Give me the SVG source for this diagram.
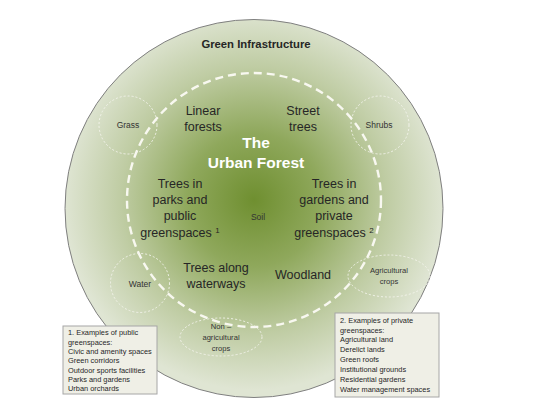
<svg xmlns="http://www.w3.org/2000/svg" width="533" height="400" viewBox="0 0 533 400">
<defs>
<radialGradient id="g" cx="254" cy="200" r="190" gradientUnits="userSpaceOnUse">
<stop offset="0" stop-color="#6f8f30"/>
<stop offset="0.35" stop-color="#8fa85c"/>
<stop offset="0.7" stop-color="#bfcca3"/>
<stop offset="1" stop-color="#dfe5d3"/>
</radialGradient>
</defs>
<style>
text{font-family:"Liberation Sans",Arial,sans-serif;fill:#262626;text-anchor:middle}
.big{font-size:12.5px}
.sm{font-size:8.5px;fill:#333}
.xs{font-size:7.6px;fill:#333}
.box{fill:#efefe6;stroke:#a6a6a6;stroke-width:1}
.bt{font-size:7.4px;text-anchor:start;fill:#262626}
.sub{fill:none;stroke:#f4f4ec;stroke-width:0.9;stroke-dasharray:2 2}
</style>
<rect width="533" height="400" fill="#fff"/>
<g id="green-infrastructure">
<circle cx="254" cy="208.5" r="189" fill="url(#g)" stroke="#7f7f7f" stroke-width="1"/>
<text x="256" y="48" style="font-size:11.3px;font-weight:bold">Green Infrastructure</text>
</g>
<g id="urban-forest">
<circle cx="254" cy="200" r="127" fill="none" stroke="#f8f8f0" stroke-width="2.4" stroke-dasharray="8 5"/>
<text x="256" y="148" style="font-size:15.5px;font-weight:bold;fill:#fff">The</text>
<text x="256" y="168" style="font-size:15.5px;font-weight:bold;fill:#fff">Urban Forest</text>
</g>
<g id="linear-forests"><text class="big" x="203" y="115">Linear</text><text class="big" x="203" y="131">forests</text></g>
<g id="street-trees"><text class="big" x="303" y="115">Street</text><text class="big" x="303" y="131">trees</text></g>
<g id="public-trees"><text class="big" x="180" y="188">Trees in</text><text class="big" x="180" y="204">parks and</text><text class="big" x="180" y="220">public</text><text class="big" x="180" y="237">greenspaces <tspan style="font-size:8px" dy="-4">1</tspan></text></g>
<g id="private-trees"><text class="big" x="334" y="188">Trees in</text><text class="big" x="334" y="204">gardens and</text><text class="big" x="334" y="220">private</text><text class="big" x="334" y="237">greenspaces <tspan style="font-size:8px" dy="-4">2</tspan></text></g>
<g id="soil"><text class="sm" x="258" y="220">Soil</text></g>
<g id="waterways"><text class="big" x="216" y="272">Trees along</text><text class="big" x="216" y="288">waterways</text></g>
<g id="woodland"><text class="big" x="303" y="279">Woodland</text></g>
<g id="grass"><circle class="sub" cx="128" cy="125" r="29"/><text class="sm" x="128" y="128">Grass</text></g>
<g id="shrubs"><circle class="sub" cx="380" cy="125" r="29"/><text class="sm" x="379" y="128">Shrubs</text></g>
<g id="water"><circle class="sub" cx="140" cy="283" r="29.5"/><text class="sm" x="140" y="287">Water</text></g>
<g id="agri"><ellipse class="sub" cx="389" cy="276" rx="41" ry="21"/><text class="xs" x="389" y="273">Agricultural</text><text class="xs" x="389" y="284">crops</text></g>
<g id="non-agri"><ellipse class="sub" cx="221" cy="337" rx="41" ry="19"/><text class="xs" x="221" y="329">Non –</text><text class="xs" x="221" y="340">agricultural</text><text class="xs" x="221" y="351">crops</text></g>
<g id="public-box">
<rect class="box" x="63" y="326" width="94" height="68"/>
<text class="bt" x="68" y="335">1. Examples of public</text>
<text class="bt" x="68" y="344.5">greenspaces:</text>
<text class="bt" x="68" y="354">Civic and amenity spaces</text>
<text class="bt" x="68" y="363.3">Green corridors</text>
<text class="bt" x="68" y="372.6">Outdoor sports facilities</text>
<text class="bt" x="68" y="382">Parks and gardens</text>
<text class="bt" x="68" y="391.3">Urban orchards</text>
</g>
<g id="private-box">
<rect class="box" x="335" y="313" width="104" height="84"/>
<text class="bt" x="340" y="322.5">2. Examples of private</text>
<text class="bt" x="340" y="332.5">greenspaces:</text>
<text class="bt" x="340" y="342.3">Agricultural land</text>
<text class="bt" x="340" y="352.2">Derelict lands</text>
<text class="bt" x="340" y="362">Green roofs</text>
<text class="bt" x="340" y="372">Institutional grounds</text>
<text class="bt" x="340" y="382">Residential gardens</text>
<text class="bt" x="340" y="391.5">Water management spaces</text>
</g>
<g id="connectors"></g>
</svg>
